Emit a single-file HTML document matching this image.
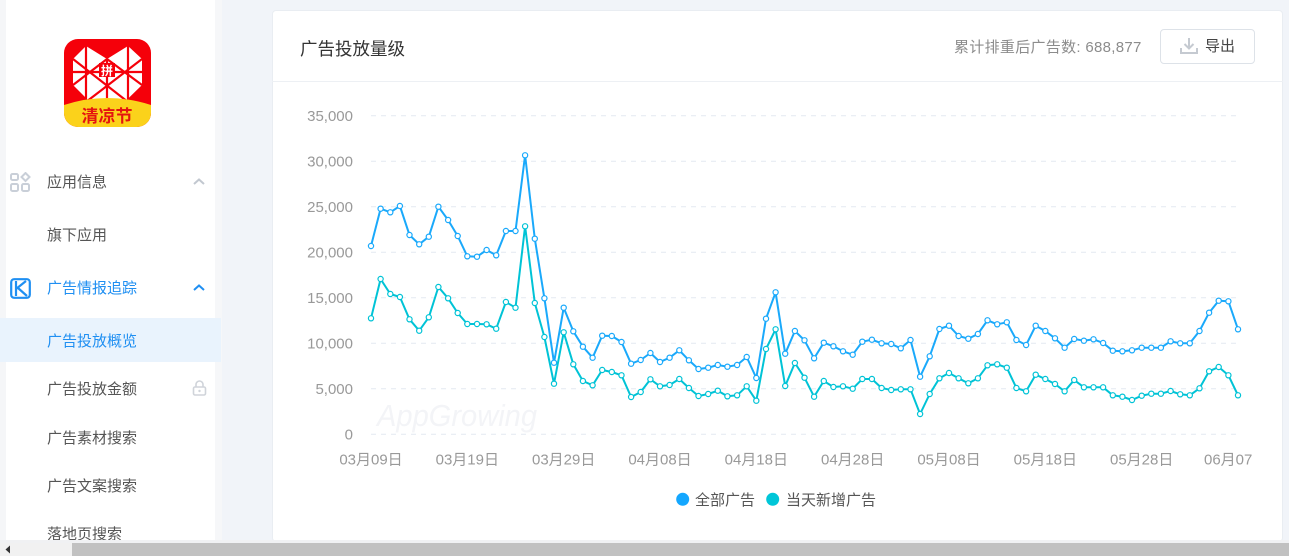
<!DOCTYPE html>
<html>
<head>
<meta charset="utf-8">
<style>
*{margin:0;padding:0;box-sizing:border-box;}
html,body{width:1289px;height:556px;overflow:hidden;background:#f1f4f9;font-family:"Liberation Sans","Noto Sans CJK SC",sans-serif;}
.abs{position:absolute;}
#side{position:absolute;left:0;top:0;width:222px;height:543px;background:#fff;}
#side .ls{position:absolute;left:0;top:0;width:6px;height:543px;background:#f5f6f8;}
#side .rs{position:absolute;left:215px;top:0;width:7px;height:543px;background:#f6f7f9;}
.mi{position:absolute;left:47px;font-size:15px;color:#555;line-height:20px;white-space:nowrap;}
.blue{color:#1f8ff2;}
#active{position:absolute;left:0;top:318px;width:221px;height:44px;background:#e9f3fd;}
#card{position:absolute;left:272px;top:10px;width:1011px;height:532px;background:#fff;border:1px solid #e9edf2;border-radius:4px;}
#hdr{position:absolute;left:272px;top:81px;width:1011px;height:1px;background:#edf0f4;}
#title{position:absolute;left:300px;top:38px;font-size:17.5px;color:#333;line-height:22px;}
#cnt{position:absolute;left:954px;top:38px;font-size:15px;color:#8c8c8c;line-height:20px;letter-spacing:0.3px;white-space:nowrap;}
#btn{position:absolute;left:1160px;top:29px;width:95px;height:35px;border:1px solid #dde2e8;border-radius:4px;background:#fff;}
#btn span{position:absolute;left:44px;top:7px;font-size:15px;color:#444;line-height:20px;}
#sb{position:absolute;left:0;top:543px;width:1289px;height:13px;background:#c1c1c1;}
#sbt{position:absolute;left:0;top:543px;width:72px;height:13px;background:#f1f1f1;}
#sbl{position:absolute;left:0;top:540px;width:1289px;height:3px;background:#f0f1f3;}
</style>
</head>
<body>
<div id="side">
  <div class="ls"></div>
  <div class="rs"></div>
  <div id="active"></div>
  <svg class="abs" style="left:64px;top:39px" width="87" height="88" viewBox="0 0 87 88">
    <defs><clipPath id="lc"><rect x="0" y="0" width="87" height="88" rx="14"/></clipPath></defs>
    <g clip-path="url(#lc)">
      <rect x="0" y="0" width="87" height="88" fill="#f5000a"/>
      <polygon points="9,20 22,7 43,20 64,7 78,20 78,46 43,80 9,46" fill="#fff"/>
      <g stroke="#f5000a" stroke-width="2.2" fill="none">
        <line x1="22" y1="7" x2="22" y2="63"/>
        <line x1="64" y1="7" x2="64" y2="63"/>
        <line x1="9" y1="20" x2="64" y2="63"/>
        <line x1="78" y1="20" x2="22" y2="63"/>
        <line x1="9" y1="46" x2="43" y2="20"/>
        <line x1="78" y1="46" x2="43" y2="20"/>
        <line x1="43" y1="20" x2="43" y2="80"/>
        <line x1="9" y1="33" x2="78" y2="33"/>
      </g>
      <rect x="35" y="24" width="16" height="14" fill="#f5000a"/>
      <text x="43" y="36" font-size="12" font-weight="bold" fill="#fff" text-anchor="middle" font-family="Noto Sans CJK SC,sans-serif">拼</text>
      <path d="M0,66 Q43,52 87,66 L87,88 L0,88 Z" fill="#fbd21b"/>
      <text x="43" y="83" font-size="17" font-weight="bold" fill="#e4140f" text-anchor="middle" font-family="Noto Sans CJK SC,sans-serif">清凉节</text>
    </g>
  </svg>
  <svg class="abs" style="left:10px;top:172px" width="21" height="21" viewBox="0 0 21 21">
    <g fill="none" stroke="#c9cfd8" stroke-width="2">
      <rect x="1" y="2" width="7" height="6" rx="1.5"/>
      <rect x="1" y="12" width="7" height="7" rx="1.5"/>
      <rect x="12" y="12" width="7" height="7" rx="1.5"/>
      <polygon points="15.5,1 19.5,5 15.5,9 11.5,5"/>
    </g>
  </svg>
  <div class="mi" style="top:173px">应用信息</div>
  <svg class="abs" style="left:192px;top:177px" width="14" height="10"><polyline points="2,7 7,2.5 12,7" fill="none" stroke="#c2c8d0" stroke-width="2"/></svg>
  <div class="mi" style="top:226px">旗下应用</div>
  <svg class="abs" style="left:10px;top:278px" width="21" height="21" viewBox="0 0 21 21">
    <rect x="1.2" y="1.2" width="18.6" height="18.6" rx="3" fill="none" stroke="#1f8ff2" stroke-width="2.2"/>
    <path d="M6,3 L6,18 M6,11 L16,3 M8,10 L17,18" fill="none" stroke="#1f8ff2" stroke-width="2.2"/>
  </svg>
  <div class="mi blue" style="top:279px">广告情报追踪</div>
  <svg class="abs" style="left:192px;top:283px" width="14" height="10"><polyline points="2,7 7,2.5 12,7" fill="none" stroke="#1f8ff2" stroke-width="2"/></svg>
  <div class="mi blue" style="top:332px">广告投放概览</div>
  <div class="mi" style="top:380px">广告投放金额</div>
  <svg class="abs" style="left:192px;top:380px" width="15" height="16" viewBox="0 0 15 16">
    <path d="M4,7 L4,4.5 A3.5,3.5 0 0 1 11,4.5 L11,7" fill="none" stroke="#d0d4da" stroke-width="1.6"/>
    <rect x="1.5" y="7" width="12" height="8" rx="1.5" fill="none" stroke="#d0d4da" stroke-width="1.6"/>
    <circle cx="7.5" cy="11" r="1.2" fill="#d0d4da"/>
  </svg>
  <div class="mi" style="top:429px">广告素材搜索</div>
  <div class="mi" style="top:477px">广告文案搜索</div>
  <div class="mi" style="top:525px">落地页搜索</div>
</div>

<div id="card"></div>
<div id="hdr"></div>
<div id="title">广告投放量级</div>
<div id="cnt">累计排重后广告数: 688,877</div>
<div id="btn">
  <svg class="abs" style="left:18px;top:7px" width="20" height="18" viewBox="0 0 20 18">
    <path d="M10,1 L10,11 M5.5,7 L10,11.5 L14.5,7" fill="none" stroke="#c5cad1" stroke-width="2"/>
    <path d="M2,11 L2,16 L18,16 L18,11" fill="none" stroke="#c5cad1" stroke-width="2"/>
  </svg>
  <span>导出</span>
</div>

<svg class="abs" style="left:0;top:0" width="1289" height="556" viewBox="0 0 1289 556">
  <defs>
    <marker id="mb" markerUnits="userSpaceOnUse" markerWidth="8" markerHeight="8" refX="4" refY="4">
      <circle cx="4" cy="4" r="2.6" fill="#fff" stroke="#1aa9fb" stroke-width="1.2"/>
    </marker>
    <marker id="mc" markerUnits="userSpaceOnUse" markerWidth="8" markerHeight="8" refX="4" refY="4">
      <circle cx="4" cy="4" r="2.6" fill="#fff" stroke="#00c3d6" stroke-width="1.2"/>
    </marker>
  </defs>
  <text x="377" y="426" font-size="31" font-style="italic" fill="#f3f4f7" textLength="160" lengthAdjust="spacingAndGlyphs" font-family="Liberation Sans,sans-serif">AppGrowing</text>
  <g stroke="#e4e9f1" stroke-width="1" stroke-dasharray="5,5">
    <line x1="371" y1="115.7" x2="1238" y2="115.7"/>
    <line x1="371" y1="161.2" x2="1238" y2="161.2"/>
    <line x1="371" y1="206.7" x2="1238" y2="206.7"/>
    <line x1="371" y1="252.2" x2="1238" y2="252.2"/>
    <line x1="371" y1="297.7" x2="1238" y2="297.7"/>
    <line x1="371" y1="343.3" x2="1238" y2="343.3"/>
    <line x1="371" y1="388.8" x2="1238" y2="388.8"/>
    <line x1="371" y1="434.3" x2="1238" y2="434.3"/>
  </g>
  <g font-size="15" fill="#999" text-anchor="end" font-family="Liberation Sans,sans-serif">
    <text x="353" y="121">35,000</text>
    <text x="353" y="166.5">30,000</text>
    <text x="353" y="212">25,000</text>
    <text x="353" y="257.5">20,000</text>
    <text x="353" y="303">15,000</text>
    <text x="353" y="348.5">10,000</text>
    <text x="353" y="394">5,000</text>
    <text x="353" y="439.5">0</text>
  </g>
  <g font-size="15" fill="#999" text-anchor="middle" font-family="Liberation Sans,'Noto Sans CJK SC',sans-serif">
    <text x="371" y="464.5">03月09日</text>
    <text x="467.3" y="464.5">03月19日</text>
    <text x="563.7" y="464.5">03月29日</text>
    <text x="660" y="464.5">04月08日</text>
    <text x="756.3" y="464.5">04月18日</text>
    <text x="852.7" y="464.5">04月28日</text>
    <text x="949" y="464.5">05月08日</text>
    <text x="1045.3" y="464.5">05月18日</text>
    <text x="1141.7" y="464.5">05月28日</text>
    <text x="1204" y="464.5" text-anchor="start">06月07</text>
  </g>
  <polyline fill="none" stroke="#1aa9fb" stroke-width="2" stroke-linejoin="round" marker-start="url(#mb)" marker-mid="url(#mb)" marker-end="url(#mb)" points="
371.0,246 380.6,208.7 390.3,212.3 399.9,206 409.5,235 419.2,244.3 428.8,236.7 438.4,206.7 448.1,220 457.7,236
467.3,256.3 477.0,256.7 486.6,250 496.2,255.3 505.9,231 515.5,231 525.1,155.3 534.8,238.7 544.4,298.3 554.0,362.7
563.7,307.7 573.3,331.3 582.9,346.7 592.6,357.7 602.2,335.7 611.8,336 621.5,342 631.1,363.7 640.7,360 650.4,353
660.0,362 669.6,357.7 679.3,350.3 688.9,360.3 698.5,369 708.2,367.7 717.8,365 727.4,366.7 737.1,365 746.7,357
756.3,378 766.0,318.7 775.6,292.3 785.2,353.7 794.9,331 804.5,340.3 814.1,358.3 823.8,342.7 833.4,346.3 843.0,351.3
852.7,354.7 862.3,341.7 871.9,339.7 881.6,343.3 891.2,344 900.8,348.3 910.5,340 920.1,376.7 929.7,356.3 939.4,329
949.0,325.7 958.6,336 968.3,338.7 977.9,334 987.5,320.3 997.2,324.3 1006.8,322.3 1016.4,340 1026.1,345 1035.7,325.7
1045.3,331 1055.0,338.3 1064.6,347.7 1074.2,339 1083.9,340.7 1093.5,339.3 1103.1,343 1112.8,350.7 1122.4,351.3 1132.0,350.3
1141.7,347.7 1151.3,347.7 1160.9,347.7 1170.6,341.3 1180.2,343.3 1189.8,343.3 1199.5,331 1209.1,312.7 1218.7,300.7 1228.4,301.3
1238.0,329.3"/>
  <polyline fill="none" stroke="#00c3d6" stroke-width="2" stroke-linejoin="round" marker-start="url(#mc)" marker-mid="url(#mc)" marker-end="url(#mc)" points="
371.0,318.3 380.6,279 390.3,294 399.9,297 409.5,319.3 419.2,330.7 428.8,317.3 438.4,287 448.1,298.3 457.7,313
467.3,324 477.0,324 486.6,324.3 496.2,328.7 505.9,302 515.5,307.7 525.1,226.3 534.8,303 544.4,337 554.0,383.7
563.7,332.3 573.3,364.3 582.9,381 592.6,385.3 602.2,370 611.8,372 621.5,375.3 631.1,397 640.7,392 650.4,379.3
660.0,386.3 669.6,385 679.3,379 688.9,388 698.5,396 708.2,394 717.8,390.7 727.4,396.3 737.1,395.3 746.7,386.3
756.3,400.7 766.0,349 775.6,329.3 785.2,386 794.9,363 804.5,377.7 814.1,396.7 823.8,381 833.4,387 843.0,386.3
852.7,388.7 862.3,379 871.9,379 881.6,388 891.2,390 900.8,389.3 910.5,389.3 920.1,414 929.7,394 939.4,378.3
949.0,373 958.6,378.3 968.3,383.3 977.9,378.3 987.5,365.3 997.2,364.3 1006.8,367.7 1016.4,388 1026.1,391.3 1035.7,374.7
1045.3,379 1055.0,384 1064.6,391.3 1074.2,380 1083.9,387.3 1093.5,387.3 1103.1,387.3 1112.8,395.3 1122.4,396.7 1132.0,400
1141.7,395.7 1151.3,393.7 1160.9,393.7 1170.6,391 1180.2,394.3 1189.8,395.3 1199.5,388.3 1209.1,371.3 1218.7,367 1228.4,375.3
1238.0,395.3"/>
  <circle cx="682.7" cy="499.3" r="6.5" fill="#14a7ff"/>
  <text x="695" y="505" font-size="15" fill="#555" font-family="Liberation Sans,'Noto Sans CJK SC',sans-serif">全部广告</text>
  <circle cx="772.7" cy="499.3" r="6.5" fill="#00c6d8"/>
  <text x="786" y="505" font-size="15" fill="#555" font-family="Liberation Sans,'Noto Sans CJK SC',sans-serif">当天新增广告</text>
</svg>

<div id="sbl"></div>
<div id="sb"></div>
<div id="sbt"></div>
<svg class="abs" style="left:4px;top:545px" width="8" height="9"><polygon points="6,0.5 6,8.5 1.5,4.5" fill="#333"/></svg>
</body>
</html>
